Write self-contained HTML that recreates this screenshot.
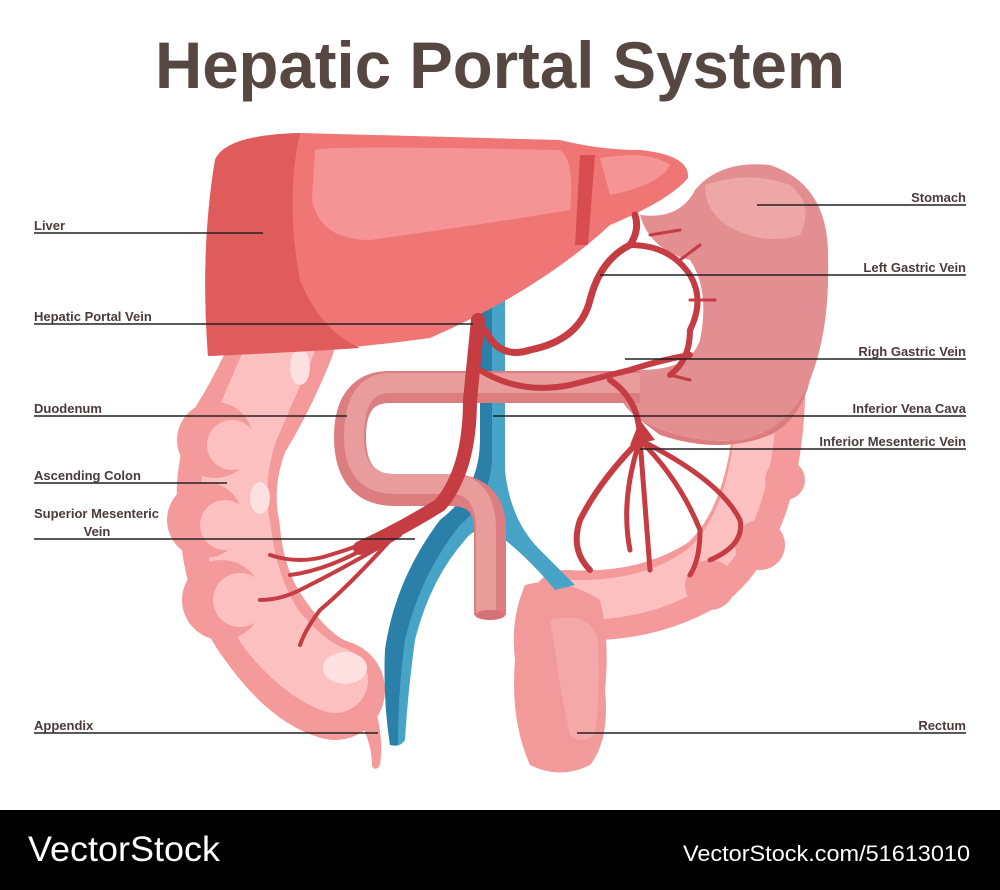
<!DOCTYPE html>
<html><head><meta charset="utf-8"><style>
html,body{margin:0;padding:0;background:#fff;}
svg{display:block;}
.l{font-family:"Liberation Sans",sans-serif;font-weight:bold;font-size:13px;fill:#4a3a3a;}
</style></head><body>
<svg width="1000" height="890" viewBox="0 0 1000 890" xmlns="http://www.w3.org/2000/svg">
<rect width="1000" height="890" fill="#fff"/>
<text x="500" y="88" text-anchor="middle" font-family="Liberation Sans,sans-serif" font-weight="bold" font-size="66" fill="#574742" textLength="690" lengthAdjust="spacingAndGlyphs">Hepatic Portal System</text>

<!-- ascending colon -->
<g fill="none" stroke-linecap="round" stroke-linejoin="round">
<path d="M285,340 Q265,390 240,430 Q220,480 230,530 Q235,590 265,630 Q300,680 335,690" stroke="#f49a9a" stroke-width="100"/>
<path d="M282,345 Q262,390 245,430 Q228,480 238,530 Q245,590 272,630 Q305,670 335,680" stroke="#fcc0c0" stroke-width="66"/>
</g>
<circle cx="215" cy="440" r="38" fill="#f49a9a"/>
<circle cx="205" cy="520" r="38" fill="#f49a9a"/>
<circle cx="222" cy="600" r="40" fill="#f49a9a"/>
<circle cx="232" cy="445" r="25" fill="#fcc0c0"/>
<circle cx="225" cy="525" r="25" fill="#fcc0c0"/>
<circle cx="240" cy="600" r="27" fill="#fcc0c0"/>
<ellipse cx="300" cy="367" rx="10" ry="18" fill="#fde0e0"/>
<ellipse cx="260" cy="498" rx="10" ry="16" fill="#fde0e0"/>
<ellipse cx="345" cy="668" rx="22" ry="16" fill="#fde0e0"/>
<path d="M370,690 Q385,735 380,765 Q376,772 372,766 Q372,740 355,712Z" fill="#f49a9a"/>

<!-- right colon -->
<g fill="none" stroke-linecap="round" stroke-linejoin="round">
<path d="M565,605 Q650,610 710,570 Q765,520 770,400" stroke="#f49a9a" stroke-width="70"/>
<path d="M570,600 Q650,602 700,565 Q752,520 757,400" stroke="#fcc0c0" stroke-width="40"/>
</g>
<circle cx="785" cy="480" r="20" fill="#f49a9a"/>
<circle cx="760" cy="545" r="25" fill="#f49a9a"/>
<circle cx="710" cy="585" r="25" fill="#f49a9a"/>
<!-- rectum -->
<path d="M525,585 Q560,575 600,600 Q610,640 605,690 Q610,740 590,765 Q560,780 530,765 Q510,720 515,660 Q510,620 525,585Z" fill="#f29a9a"/>
<path d="M550,620 Q590,610 598,640 Q600,700 595,735 Q580,745 570,735 Q560,690 555,650Z" fill="#f4a8a8"/>

<!-- IVC -->
<path d="M480,285 L505,285 L505,470 Q510,520 540,550 Q560,570 575,585 L555,590 Q530,560 505,540 Q480,520 465,540 Q430,580 415,640 Q408,690 405,740 Q400,748 390,745 Q383,700 385,650 Q395,580 440,520 Q480,490 480,440Z" fill="#48a4c6"/>
<path d="M480,285 L492,285 L492,460 Q490,500 460,525 Q420,575 405,640 Q398,690 398,745 L390,745 Q383,700 385,650 Q395,580 440,520 Q480,490 480,440Z" fill="#2a80a8"/>

<!-- stomach -->
<path d="M640,215 Q680,220 695,190 Q720,160 770,165 Q830,185 828,260 Q830,330 810,380 Q790,430 740,440 Q690,445 640,420 Q600,390 640,370 Q690,370 700,340 Q710,290 690,260 Q650,250 640,215Z" fill="#e38f91"/>
<path d="M705,185 Q750,170 790,185 Q815,205 800,235 Q770,245 735,230 Q705,215 705,185Z" fill="#eea7a7"/>
<path d="M640,420 Q690,445 740,440 Q790,430 810,380 Q800,420 770,435 Q720,455 660,435Z" fill="#dc7c7e"/>

<!-- liver -->
<path d="M215,160 Q225,135 300,133 L560,140 Q600,150 640,150 Q690,155 688,178 Q670,200 610,225 Q540,290 430,338 Q330,352 208,356 Q200,250 215,160Z" fill="#f07575"/>
<path d="M215,160 Q225,135 300,133 Q285,200 300,280 Q320,330 360,348 Q300,352 208,356 Q200,250 215,160Z" fill="#e05c5c"/>
<path d="M315,150 Q330,145 560,150 Q575,160 570,210 Q480,225 370,240 Q320,240 312,200Z" fill="#f59494"/>
<path d="M600,158 Q650,150 670,165 Q660,185 610,195Z" fill="#f59494"/>
<path d="M580,155 L595,155 L588,245 L575,245Z" fill="#d94c50"/>

<!-- duodenum -->
<path d="M640,387 L390,387 Q350,387 350,437 Q350,490 395,490 L450,490 Q490,490 490,530 L490,615" fill="none" stroke="#dc7d80" stroke-width="32"/>
<path d="M640,383 L390,383 Q354,383 354,437 Q354,484 395,484 L450,484 Q486,484 486,530 L486,615" fill="none" stroke="#e89c9c" stroke-width="20"/>
<ellipse cx="490" cy="615" rx="15" ry="5" fill="#d47276"/>

<!-- veins -->
<g fill="none" stroke="#c53c42" stroke-linecap="round">
<path d="M478,320 L470,400 Q470,470 440,505 Q400,530 360,548" stroke-width="14"/>
<path d="M485,330 Q500,360 530,350 Q580,340 590,300 Q600,260 630,245 Q640,230 635,215" stroke-width="7"/>
<path d="M630,245 Q670,245 690,275 Q705,300 690,330 Q690,360 670,375" stroke-width="6"/>
<path d="M480,370 Q520,395 570,385 Q610,375 630,370 Q660,360 690,355" stroke-width="6"/>
<path d="M610,380 Q640,400 640,440 Q600,480 580,520 Q570,550 590,570" stroke-width="6"/>
<path d="M640,440 L650,570 M640,440 Q680,480 700,530 Q700,560 690,575 M640,440 Q720,480 740,520 Q745,545 710,560 M640,440 Q620,500 630,550" stroke-width="5"/>
<path d="M415,520 Q380,540 330,555 Q300,565 270,555 M400,535 Q350,565 300,590 Q280,600 260,600 M395,535 Q350,585 320,610 Q305,630 300,645 M380,540 Q330,570 290,575" stroke-width="4"/>
<path d="M670,375 L690,380 M680,260 L700,245 M690,300 L715,300 M650,235 L680,230" stroke-width="3"/>
</g>
<path d="M640,420 L655,440 L630,445Z" fill="#c53c42"/>

<!-- labels -->
<g stroke="#222" stroke-width="1.5">
<line x1="34" y1="233" x2="263" y2="233"/>
<line x1="34" y1="324" x2="473" y2="324"/>
<line x1="34" y1="416" x2="347" y2="416"/>
<line x1="34" y1="483" x2="227" y2="483"/>
<line x1="34" y1="539" x2="415" y2="539"/>
<line x1="34" y1="733" x2="378" y2="733"/>
<line x1="757" y1="205" x2="966" y2="205"/>
<line x1="600" y1="275" x2="966" y2="275"/>
<line x1="625" y1="359" x2="966" y2="359"/>
<line x1="493" y1="416" x2="966" y2="416"/>
<line x1="640" y1="449" x2="966" y2="449"/>
<line x1="577" y1="733" x2="966" y2="733"/>
</g>
<text class="l" x="34" y="230">Liver</text>
<text class="l" x="34" y="321">Hepatic Portal Vein</text>
<text class="l" x="34" y="413">Duodenum</text>
<text class="l" x="34" y="480">Ascending Colon</text>
<text class="l" x="34" y="518">Superior Mesenteric</text>
<text class="l" x="97" y="536" text-anchor="middle">Vein</text>
<text class="l" x="34" y="730">Appendix</text>
<g text-anchor="end">
<text class="l" x="966" y="202">Stomach</text>
<text class="l" x="966" y="272">Left Gastric  Vein</text>
<text class="l" x="966" y="356">Righ Gastric  Vein</text>
<text class="l" x="966" y="413">Inferior Vena Cava</text>
<text class="l" x="966" y="446">Inferior Mesenteric  Vein</text>
<text class="l" x="966" y="730">Rectum</text>
</g>

<rect x="0" y="810" width="1000" height="80" fill="#000"/>
<text x="28" y="861" font-family="Liberation Sans,sans-serif" font-size="35" fill="#fff" textLength="192" lengthAdjust="spacingAndGlyphs">VectorStock</text>
<text x="970" y="861" text-anchor="end" font-family="Liberation Sans,sans-serif" font-size="22" fill="#fff" textLength="287" lengthAdjust="spacingAndGlyphs">VectorStock.com/51613010</text>
</svg>
</body></html>
